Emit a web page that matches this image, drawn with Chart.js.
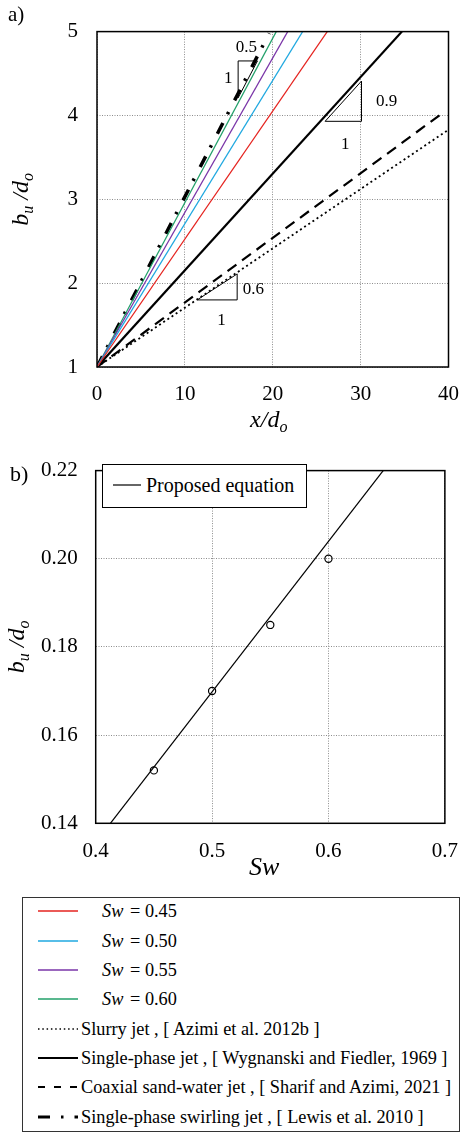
<!DOCTYPE html>
<html><head><meta charset="utf-8">
<script src="https://cdn.jsdelivr.net/npm/chart.js@4.4.0/dist/chart.umd.min.js"></script>
<style>
html,body{margin:0;padding:0;background:#fff;}
#wrap{position:relative;width:474px;height:1135px;overflow:hidden;font-family:"Liberation Serif","Times New Roman",serif;color:#000;}
canvas{position:absolute;left:0;}
.tag{position:absolute;font-size:21px;line-height:21px;}
#legA{position:absolute;left:22px;top:897px;width:438px;height:235px;border:1.5px solid #333;box-sizing:border-box;}
.row{position:absolute;left:0;width:432px;height:24px;line-height:24px;font-size:18.3px;white-space:nowrap;}
.row svg{position:absolute;left:15px;top:7px;}
.row .txt{position:absolute;top:0;}
#legB{position:absolute;left:102px;top:464px;width:205px;height:44px;border:1.5px solid #000;box-sizing:border-box;background:#fff;font-size:20px;}
#legB svg{position:absolute;left:10px;top:15px;}
#legB span{position:absolute;left:43px;top:8px;line-height:24px;white-space:nowrap;}
</style></head>
<body><div id="wrap">
<canvas id="cA" width="474" height="440" style="top:0;width:474px;height:440px"></canvas>
<canvas id="cB" width="474" height="440" style="top:440px;width:474px;height:440px"></canvas>
<div class="tag" style="left:8px;top:4px">a)</div>
<div class="tag" style="left:10px;top:463px;font-size:22px">b)</div>
<div id="legB"></div>
<div id="legA"></div>
</div>
<script>
// ---------- data: panel a ----------
const xTicksA = [0, 10, 20, 30, 40];
const xTickLabelsA = ['0', '10', '20', '30', '40'];
const yTicksA = [1, 2, 3, 4, 5];
const yTickLabelsA = ['1', '2', '3', '4', '5'];

const swLabels = ['0.45', '0.50', '0.55', '0.60'];
const sw045X = [0, 26.2];  const sw045Y = [1, 5];
const sw050X = [0, 23.4];  const sw050Y = [1, 5];
const sw055X = [0, 21.7];  const sw055Y = [1, 5];
const sw060X = [0, 20.4];  const sw060Y = [1, 5];
const slurryX = [0, 40];   const slurryY = [1, 3.83];
const singleX = [0, 34.7]; const singleY = [1, 5];
const coaxX = [0, 39.6];   const coaxY = [1, 4.05];
const swirlX = [0, 19.6];  const swirlY = [1, 4.98];

const refLabels = [
  'Slurry jet , [ Azimi et al. 2012b ]',
  'Single-phase jet , [ Wygnanski and Fiedler, 1969 ]',
  'Coaxial sand-water jet , [ Sharif and Azimi, 2021 ]',
  'Single-phase swirling jet , [ Lewis et al. 2010 ]'
];

// slope triangles (x, y pairs)
const tri1X = [16.06, 16.06, 18.26, 16.06]; const tri1Y = [4.21, 4.65, 4.65, 4.21];
const tri2X = [25.96, 30.1, 30.1, 25.96];   const tri2Y = [3.93, 3.93, 4.41, 3.93];
const tri3X = [11.4, 15.95, 15.95, 11.4];   const tri3Y = [1.80, 1.80, 2.11, 1.80];
const triText = ['0.5', '1', '0.9', '1', '0.6', '1'];
const triTextX = [17.0, 14.93, 32.97, 28.24, 17.79, 14.16];
const triTextY = [4.81, 4.44, 4.17, 3.65, 1.92, 1.55];

// ---------- data: panel b ----------
const xTicksB = [0.4, 0.5, 0.6, 0.7];
const xTickLabelsB = ['0.4', '0.5', '0.6', '0.7'];
const yTicksB = [0.14, 0.16, 0.18, 0.20, 0.22];
const yTickLabelsB = ['0.14', '0.16', '0.18', '0.20', '0.22'];
const swObs = [0.45, 0.50, 0.55, 0.60];
const buObs = [0.152, 0.170, 0.185, 0.200];
const eqX = [0.4126, 0.647];
const eqY = [0.14, 0.22];
const eqLabel = 'Proposed equation';

// ---------- styles ----------
const colSw = ['#e5231f', '#1fa8e0', '#7a35a8', '#22a06a'];
const FONT = '"Liberation Serif","Times New Roman",serif';
Chart.defaults.font.family = FONT;
Chart.defaults.color = '#000';

const pts = (xs, ys) => xs.map((x, i) => ({x: x, y: ys[i]}));
const lineDs = (xs, ys, color, width, dash) => ({
  data: pts(xs, ys), showLine: true, borderColor: color, borderWidth: width,
  borderDash: dash || [], pointRadius: 0, fill: false, tension: 0
});

function drawRich(ctx, parts, cx, cy, rot) {
  ctx.save();
  ctx.translate(cx, cy);
  if (rot) ctx.rotate(rot);
  let w = 0;
  parts.forEach(p => { ctx.font = (p.it ? 'italic ' : '') + p.size + 'px ' + FONT; p.w = ctx.measureText(p.t).width; w += p.w; });
  let x = -w / 2;
  ctx.fillStyle = '#000';
  ctx.textBaseline = 'alphabetic';
  parts.forEach(p => {
    ctx.font = (p.it ? 'italic ' : '') + p.size + 'px ' + FONT;
    ctx.fillText(p.t, x, 8 + (p.sub ? 5 : 0));
    x += p.w;
  });
  ctx.restore();
}

const framePlugin = {
  id: 'frame',
  afterDraw(chart) {
    const a = chart.chartArea, c = chart.ctx;
    c.save(); c.strokeStyle = '#000'; c.lineWidth = 1.5;
    c.strokeRect(a.left, a.top, a.right - a.left, a.bottom - a.top);
    c.restore();
  }
};

// ---------- chart a ----------
const dsA = [
  lineDs(sw045X, sw045Y, colSw[0], 1.2),
  lineDs(sw050X, sw050Y, colSw[1], 1.2),
  lineDs(sw055X, sw055Y, colSw[2], 1.2),
  lineDs(sw060X, sw060Y, colSw[3], 1.2),
  lineDs(slurryX, slurryY, '#000', 1.8, [2, 3]),
  lineDs(singleX, singleY, '#000', 2.2),
  lineDs(coaxX, coaxY, '#000', 2.2, [11, 7]),
  lineDs(swirlX, swirlY, '#000', 3.5, [12, 10, 2.5, 13]),
  lineDs(tri1X, tri1Y, '#000', 1),
  lineDs(tri2X, tri2Y, '#000', 1),
  lineDs(tri3X, tri3Y, '#000', 1)
];

new Chart(document.getElementById('cA'), {
  type: 'scatter',
  data: {datasets: dsA},
  options: {
    responsive: false, animation: false,
    layout: {autoPadding: false, padding: {left: 0, right: 13, top: 9, bottom: 0}},
    plugins: {legend: {display: false}, tooltip: {enabled: false}},
    scales: {
      x: {
        type: 'linear', min: 0, max: 40,
        afterBuildTicks: s => { s.ticks = xTicksA.map(v => ({value: v})); },
        afterFit: s => { s.height = 73; },
        grid: {color: '#8c8c8c', lineWidth: 1, drawTicks: false},
        border: {display: false, dash: [1, 1.5]},
        ticks: {padding: 15, font: {size: 21}, color: '#000', maxRotation: 0,
          callback: (v, i) => xTickLabelsA[i]}
      },
      y: {
        type: 'linear', min: 1, max: 5,
        afterBuildTicks: s => { s.ticks = yTicksA.map(v => ({value: v})); },
        afterFit: s => { s.width = 97; },
        grid: {color: '#8c8c8c', lineWidth: 1, drawTicks: false},
        border: {display: false, dash: [1, 1.5]},
        ticks: {padding: 19, font: {size: 21}, color: '#000',
          callback: (v, i) => yTickLabelsA[i]}
      }
    }
  },
  plugins: [framePlugin, {
    id: 'annA',
    afterDraw(chart) {
      const c = chart.ctx, xs = chart.scales.x, ys = chart.scales.y, a = chart.chartArea;
      c.save();
      c.font = '17px ' + FONT; c.fillStyle = '#000';
      c.textAlign = 'center'; c.textBaseline = 'middle';
      triText.forEach((t, i) => c.fillText(t, xs.getPixelForValue(triTextX[i]), ys.getPixelForValue(triTextY[i])));
      c.restore();
      drawRich(c, [{t: 'x', it: true, size: 24}, {t: '/', it: true, size: 24}, {t: 'd', it: true, size: 24}, {t: 'o', it: true, size: 16, sub: true}],
        (a.left + a.right) / 2 - 4, 419, 0);
      drawRich(c, [{t: 'b', it: true, size: 24}, {t: 'u', it: true, size: 16, sub: true}, {t: ' /', it: true, size: 24}, {t: 'd', it: true, size: 24}, {t: 'o', it: true, size: 16, sub: true}],
        20, (a.top + a.bottom) / 2, -Math.PI / 2);
    }
  }]
});

// ---------- chart b ----------
new Chart(document.getElementById('cB'), {
  type: 'scatter',
  data: {datasets: [
    lineDs(eqX, eqY, '#000', 1.2),
    {data: pts(swObs, buObs), showLine: false, pointRadius: 3.6, pointBorderWidth: 1.2,
      pointBorderColor: '#000', pointBackgroundColor: 'rgba(255,255,255,0)'}
  ]},
  options: {
    responsive: false, animation: false,
    layout: {autoPadding: false, padding: {left: 0, right: 14.7, top: 16, bottom: 0}},
    plugins: {legend: {display: false}, tooltip: {enabled: false}},
    scales: {
      x: {
        type: 'linear', min: 0.4, max: 0.7,
        afterBuildTicks: s => { s.ticks = xTicksB.map(v => ({value: v})); },
        afterFit: s => { s.height = 56.7; },
        grid: {color: '#8c8c8c', lineWidth: 1, drawTicks: false},
        border: {display: false, dash: [1, 1.5]},
        ticks: {padding: 16, font: {size: 21}, color: '#000', maxRotation: 0,
          callback: (v, i) => xTickLabelsB[i]}
      },
      y: {
        type: 'linear', min: 0.14, max: 0.22,
        afterBuildTicks: s => { s.ticks = yTicksB.map(v => ({value: v})); },
        afterFit: s => { s.width = 95.7; },
        grid: {color: '#8c8c8c', lineWidth: 1, drawTicks: false},
        border: {display: false, dash: [1, 1.5]},
        ticks: {padding: 18, font: {size: 21}, color: '#000',
          callback: (v, i) => yTickLabelsB[i]}
      }
    }
  },
  plugins: [framePlugin, {
    id: 'annB',
    afterDraw(chart) {
      const c = chart.ctx, a = chart.chartArea;
      drawRich(c, [{t: 'Sw', it: true, size: 26}], (a.left + a.right) / 2 - 6, 427, 0);
      drawRich(c, [{t: 'b', it: true, size: 24}, {t: 'u', it: true, size: 16, sub: true}, {t: ' /', it: true, size: 24}, {t: 'd', it: true, size: 24}, {t: 'o', it: true, size: 16, sub: true}],
        16, (a.top + a.bottom) / 2, -Math.PI / 2);
    }
  }]
});

// ---------- HTML legends ----------
function svgLine(w, color, width, dash) {
  return '<svg width="' + w + '" height="10" viewBox="0 0 ' + w + ' 10"><line x1="0" y1="5" x2="' + w + '" y2="5" stroke="' + color +
    '" stroke-width="' + width + '"' + (dash ? ' stroke-dasharray="' + dash + '"' : '') + '/></svg>';
}
document.getElementById('legB').innerHTML = svgLine(28, '#000', 1.2) + '<span>' + eqLabel + '</span>';

const legA = document.getElementById('legA');
const rowTop0 = 911.7 - 898.5 - 12, rowStep = 29.35;
let html = '';
swLabels.forEach((s, i) => {
  html += '<div class="row" style="top:' + (rowTop0 + rowStep * i).toFixed(1) + 'px">' + svgLine(40, colSw[i], 1.3) +
    '<span class="txt" style="left:79px"><i>Sw</i></span><span class="txt" style="left:107px">= ' + s + '</span></div>';
});
const refStyles = [['#000', 1.6, '1.5,2.8'], ['#000', 2.2, null], ['#000', 2.2, '7,9'], ['#000', 3, '12,11,2.5,11']];
refLabels.forEach((s, j) => {
  const i = j + 4;
  html += '<div class="row" style="top:' + (rowTop0 + rowStep * i).toFixed(1) + 'px">' + svgLine(40, refStyles[j][0], refStyles[j][1], refStyles[j][2]) +
    '<span class="txt" style="left:58px">' + s + '</span></div>';
});
legA.innerHTML = html;
</script>
</body></html>
